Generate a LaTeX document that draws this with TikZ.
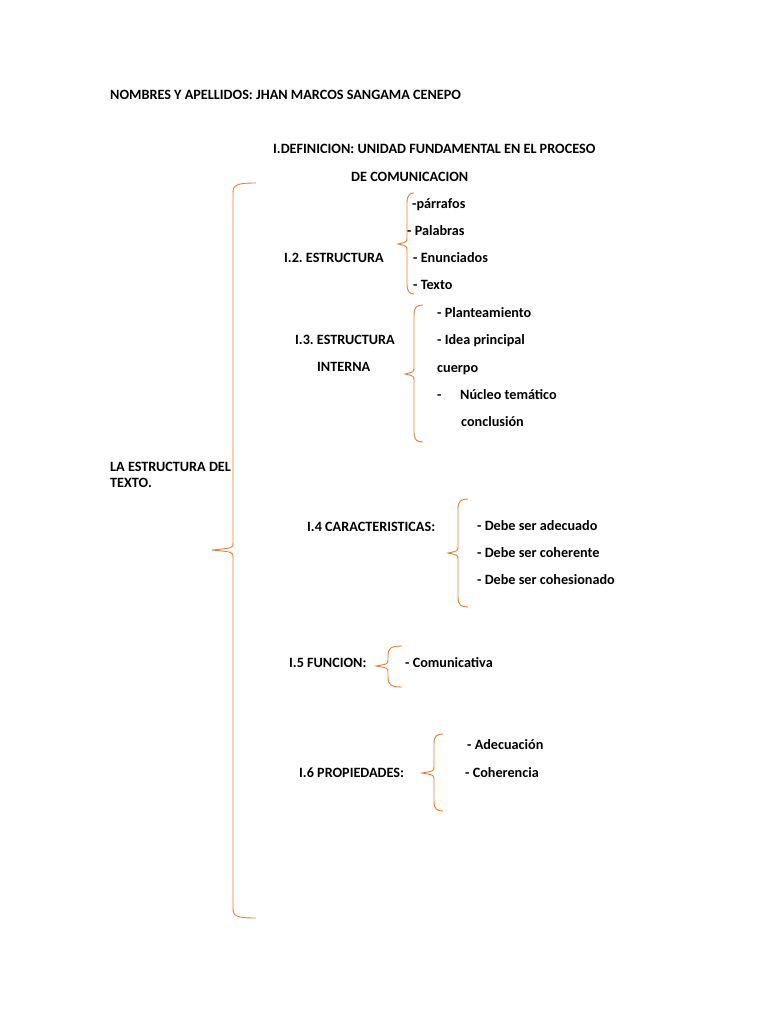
\documentclass[tikz,border=0pt]{standalone}
\usepackage{fontspec}
\setmainfont{Carlito}
\frenchspacing
\definecolor{brcol}{RGB}{237,125,49}
\newcommand\curlybr[6]{% x, ytop, ytip, ybot, xend, xtip
 \draw[brcurve] (#5,#2) .. controls (#1+3,#2) and (#1,#2+2) .. (#1,#2+10) -- (#1,#3-7) .. controls (#1,#3-2) .. (#6,#3) .. controls (#1,#3+2) .. (#1,#3+7) -- (#1,#4-10) .. controls (#1,#4-2) and (#1+3,#4) .. (#5,#4);}
\begin{document}
\begin{tikzpicture}[x=1pt,y=-1pt,
 txt/.style={anchor=west,inner sep=0pt,text height=8.9pt,text depth=0pt,font=\fontsize{14.2}{16}\selectfont\bfseries},
 brcurve/.style={draw=brcol,line width=0.9pt}]
\useasboundingbox[fill=white] (0,0) rectangle (768,1024);
\node[txt] (title) at (110,95) {NOMBRES Y APELLIDOS: JHAN MARCOS SANGAMA CENEPO};
\node[txt] (def1) at (273,149) {I.DEFINICION: UNIDAD FUNDAMENTAL EN EL PROCESO};
\node[txt] (def2) at (351,177) {DE COMUNICACION};
\node[anchor=north west,inner sep=0pt,align=left,font=\fontsize{14.2}{16}\selectfont\bfseries] (main) at (110,462) {LA ESTRUCTURA DEL\\TEXTO.};
% big brace
\curlybr{233}{183}{550}{918}{256}{212}
% I.2
\node[txt] (s2) at (284,258) {I.2. ESTRUCTURA};
\curlybr{407}{193}{244}{294}{414}{398}
\node[txt] (s2a) at (412,204) {-p\'arrafos};
\node[txt] (s2b) at (407,231) {- Palabras};
\node[txt] (s2c) at (413,258) {- Enunciados};
\node[txt] (s2d) at (413,285) {- Texto};
% I.3
\node[txt] (s3a) at (295,340) {I.3. ESTRUCTURA};
\node[txt] (s3b) at (317,367) {INTERNA};
\curlybr{414}{305}{374}{442}{423}{405}
\node[txt] (s3i1) at (437,313) {- Planteamiento};
\node[txt] (s3i2) at (437,340) {- Idea principal};
\node[txt] (s3i3) at (437,368) {cuerpo};
\node[txt] (s3i4) at (437,395) {-};
\node[txt] (s3i5) at (460,395) {N\'ucleo tem\'atico};
\node[txt] (s3i6) at (461,422) {conclusi\'on};
% I.4
\node[txt] (s4) at (307,527) {I.4 CARACTERISTICAS:};
\curlybr{458}{499}{553}{607}{468}{448}
\node[txt] (s4a) at (477,526) {- Debe ser adecuado};
\node[txt] (s4b) at (477,553) {- Debe ser coherente};
\node[txt] (s4c) at (477,580) {- Debe ser cohesionado};
% I.5
\node[txt] (s5) at (289,663) {I.5 FUNCION:};
\curlybr{388}{646}{666}{687}{402}{376}
\node[txt] (s5a) at (405,663) {- Comunicativa};
% I.6
\node[txt] (s6) at (299,773) {I.6 PROPIEDADES:};
\curlybr{434}{734}{773}{811}{443}{422}
\node[txt] (s6a) at (467,745) {- Adecuaci\'on};
\node[txt] (s6b) at (465,773) {- Coherencia};
\end{tikzpicture}
\end{document}
